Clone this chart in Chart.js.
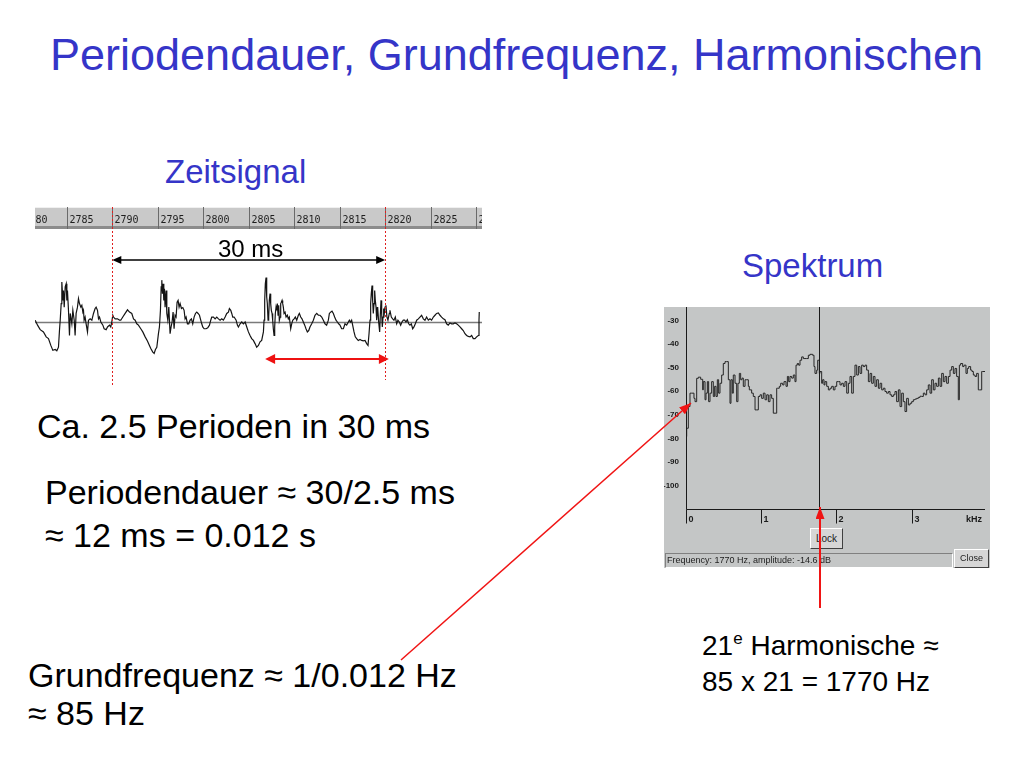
<!DOCTYPE html>
<html>
<head>
<meta charset="utf-8">
<script src="https://cdn.jsdelivr.net/npm/chart.js@4.4.1/dist/chart.umd.min.js"></script>
<style>
  body { margin: 0; width: 1024px; height: 768px; position: relative; overflow: hidden; background: #fff;
         font-family: "Liberation Sans", Arial, sans-serif; }
  .t { position: absolute; white-space: nowrap; line-height: 1; color: #000; }
  .blue { color: #3535c8; }
  canvas { position: absolute; }
  .panel { position: absolute; left: 664px; top: 307px; width: 326px; height: 261px; background: #c4c6c6; }
  .btn { position: absolute; box-sizing: border-box; background: #d6d6d6; border: 1px solid;
         border-color: #fff #404040 #404040 #fff; font-size: 10px; text-align: center; color: #222; }
  .status { position: absolute; box-sizing: border-box; left: 665px; top: 553px; width: 288px; height: 15px;
            border: 1px solid; border-color: #808080 #fff #fff #808080; font-size: 9px; line-height: 13px;
            padding-left: 1px; color: #222; white-space: nowrap; }
  svg { position: absolute; left: 0; top: 0; }
</style>
</head>
<body>

<div class="t blue" style="left:50px;top:32px;font-size:45px">Periodendauer, Grundfrequenz, Harmonischen</div>
<div class="t blue" style="left:165px;top:155px;font-size:33px">Zeitsignal</div>
<div class="t blue" style="left:742px;top:249px;font-size:33px">Spektrum</div>

<canvas id="signal" width="500" height="200" style="left:0;top:200px"></canvas>
<div class="t" style="left:218px;top:237px;font-size:24px">30 ms</div>

<div class="panel"></div>
<canvas id="spectrum" width="326" height="261" style="left:664px;top:307px"></canvas>
<div class="btn" style="left:810px;top:528px;width:33px;height:21px;line-height:19px">Lock</div>
<div class="status">Frequency: 1770 Hz, amplitude: -14.6 dB</div>
<div class="btn" style="left:954px;top:549px;width:35px;height:19px;line-height:17px;font-size:9px">Close</div>

<div class="t" style="left:37px;top:409px;font-size:34px">Ca. 2.5 Perioden in 30 ms</div>
<div class="t" style="left:45px;top:475px;font-size:34px">Periodendauer &#8776; 30/2.5 ms</div>
<div class="t" style="left:45px;top:518px;font-size:34px">&#8776; 12 ms = 0.012 s</div>
<div class="t" style="left:28px;top:658px;font-size:34px">Grundfrequenz &#8776; 1/0.012 Hz</div>
<div class="t" style="left:28px;top:696px;font-size:34px">&#8776; 85 Hz</div>
<div class="t" style="left:702px;top:632px;font-size:28px">21<span style="font-size:17px;position:relative;top:-11px">e</span> Harmonische &#8776;</div>
<div class="t" style="left:702px;top:668px;font-size:28px">85 x 21 = 1770 Hz</div>

<svg width="1024" height="768">
  <defs>
    <marker id="headA" markerWidth="12" markerHeight="9" refX="12" refY="4.5" orient="auto" markerUnits="userSpaceOnUse">
      <path d="M0,0 L12,4.5 L0,9 z" fill="#f01414"/>
    </marker>
  </defs>
  <line x1="401" y1="660" x2="691" y2="403" stroke="#f01414" stroke-width="1.5" marker-end="url(#headA)"/>
  <line x1="820" y1="608" x2="820" y2="507" stroke="#f01414" stroke-width="2" marker-end="url(#headA)"/>
</svg>

<script>
// Zeitsignal: time in ms, amplitude in relative units (0 = centre line)
const timeMs = [
  2781.52, 2781.78, 2782.07, 2782.43, 2782.73, 2782.98, 2783.24, 2783.46, 2783.72, 2783.90,
  2784.08, 2784.19, 2784.27, 2784.38, 2784.45, 2784.56, 2784.63, 2784.71, 2784.82, 2784.93,
  2785.00, 2785.07, 2785.18, 2785.29, 2785.37, 2785.55, 2785.66, 2785.81, 2785.91, 2786.02,
  2786.17, 2786.28, 2786.39, 2786.54, 2786.65, 2786.76, 2786.83, 2786.90, 2787.01, 2787.12,
  2787.27, 2787.38, 2787.56, 2787.75, 2787.93, 2788.11, 2788.22, 2788.37, 2788.48, 2788.59,
  2788.74, 2788.96, 2789.10, 2789.32, 2789.47, 2789.69, 2789.83, 2789.94, 2790.05, 2790.13,
  2790.31, 2790.57, 2790.79, 2790.93, 2791.15, 2791.41, 2791.67, 2791.89, 2792.14, 2792.33,
  2792.51, 2792.69, 2792.87, 2793.13, 2793.35, 2793.61, 2793.86, 2794.08, 2794.23, 2794.45,
  2794.60, 2794.74, 2794.89, 2795.07, 2795.18, 2795.29, 2795.37, 2795.44, 2795.51, 2795.59,
  2795.66, 2795.73, 2795.80, 2795.91, 2795.99, 2796.10, 2796.21, 2796.35, 2796.46, 2796.57,
  2796.68, 2796.79, 2796.90, 2797.01, 2797.12, 2797.23, 2797.34, 2797.45, 2797.60, 2797.75,
  2797.89, 2798.00, 2798.11, 2798.26, 2798.40, 2798.55, 2798.70, 2798.84, 2798.99, 2799.14,
  2799.28, 2799.43, 2799.58, 2799.72, 2799.83, 2799.94, 2800.09, 2800.31, 2800.49, 2800.68,
  2800.82, 2800.93, 2801.12, 2801.30, 2801.48, 2801.67, 2801.85, 2802.03, 2802.21, 2802.40,
  2802.58, 2802.76, 2802.87, 2803.02, 2803.13, 2803.24, 2803.39, 2803.61, 2803.75, 2803.86,
  2804.05, 2804.23, 2804.41, 2804.60, 2804.78, 2804.96, 2805.14, 2805.32, 2805.51, 2805.69,
  2805.87, 2806.06, 2806.24, 2806.42, 2806.61, 2806.68, 2806.75, 2806.82, 2806.90, 2806.97,
  2807.04, 2807.12, 2807.19, 2807.26, 2807.34, 2807.41, 2807.48, 2807.56, 2807.63, 2807.70,
  2807.78, 2807.85, 2807.92, 2808.00, 2808.07, 2808.14, 2808.22, 2808.29, 2808.36, 2808.44,
  2808.51, 2808.58, 2808.66, 2808.73, 2808.80, 2808.88, 2808.99, 2809.10, 2809.24, 2809.35,
  2809.46, 2809.61, 2809.72, 2809.83, 2809.98, 2810.12, 2810.27, 2810.45, 2810.56, 2810.71,
  2810.85, 2811.00, 2811.15, 2811.29, 2811.44, 2811.59, 2811.73, 2811.92, 2812.10, 2812.28,
  2812.47, 2812.65, 2812.83, 2813.02, 2813.20, 2813.38, 2813.56, 2813.75, 2813.86, 2814.00,
  2814.15, 2814.30, 2814.44, 2814.59, 2814.74, 2814.88, 2815.03, 2815.21, 2815.40, 2815.58,
  2815.76, 2815.95, 2816.06, 2816.20, 2816.31, 2816.42, 2816.57, 2816.71, 2816.86, 2817.04,
  2817.23, 2817.41, 2817.59, 2817.78, 2817.96, 2818.11, 2818.22, 2818.33, 2818.40, 2818.47,
  2818.55, 2818.62, 2818.69, 2818.77, 2818.84, 2818.91, 2818.99, 2819.06, 2819.17, 2819.28,
  2819.39, 2819.46, 2819.54, 2819.61, 2819.68, 2819.76, 2819.83, 2819.90, 2819.98, 2820.08,
  2820.19, 2820.30, 2820.45, 2820.52, 2820.67, 2820.82, 2820.96, 2821.11, 2821.26, 2821.40,
  2821.55, 2821.70, 2821.84, 2821.99, 2822.14, 2822.28, 2822.43, 2822.58, 2822.72, 2822.87,
  2823.02, 2823.16, 2823.31, 2823.46, 2823.64, 2823.82, 2824.00, 2824.19, 2824.37, 2824.55,
  2824.74, 2824.92, 2825.10, 2825.29, 2825.47, 2825.65, 2825.84, 2826.02, 2826.20, 2826.39,
  2826.57, 2826.75, 2826.93, 2827.12, 2827.30, 2827.48, 2827.67, 2827.85, 2828.03, 2828.22,
  2828.40, 2828.58, 2828.77, 2828.95, 2829.13, 2829.32, 2829.50, 2829.68, 2829.87, 2830.05,
  2830.23, 2830.31, 2830.34
];
const amplitude = [
  0.04, -0.07, -0.17, -0.22, -0.33, -0.37, -0.52, -0.63, -0.61, -0.64,
  -0.56, -0.19, 0.04, 0.41, 0.89, 0.48, 0.70, 0.33, 0.78, 0.85,
  0.48, 0.70, 0.26, -0.30, 0.19, -0.04, 0.26, 0.04, -0.30, 0.19,
  0.33, 0.52, 0.41, 0.33, 0.37, 0.22, 0.26, 0.04, 0.11, -0.04,
  -0.22, 0.04, 0.07, 0.04, 0.19, 0.30, 0.33, 0.26, 0.07, 0.11,
  0.00, -0.07, -0.15, -0.17, -0.11, -0.07, -0.11, 0.00, 0.15, 0.11,
  0.07, 0.07, 0.04, 0.04, 0.11, 0.19, 0.27, 0.22, 0.19, 0.07,
  0.04, -0.04, -0.07, -0.15, -0.22, -0.33, -0.42, -0.52, -0.59, -0.67,
  -0.70, -0.61, -0.56, -0.26, -0.11, 0.26, 0.78, 0.93, 0.63, 0.85,
  0.48, 0.74, 0.33, 0.70, 0.19, 0.04, 0.33, -0.26, -0.11, 0.00,
  0.22, -0.15, 0.15, 0.11, 0.44, 0.48, 0.33, 0.41, 0.30, 0.32,
  0.26, 0.07, 0.11, -0.04, -0.04, 0.04, 0.07, -0.04, 0.11, 0.19,
  0.22, 0.19, 0.15, 0.04, -0.04, -0.11, -0.15, -0.15, -0.13, -0.07,
  0.04, 0.11, 0.11, 0.07, 0.11, 0.07, 0.04, 0.07, 0.04, 0.11,
  0.19, 0.22, 0.30, 0.26, 0.19, 0.11, 0.11, 0.04, -0.07, -0.11,
  -0.04, 0.00, -0.04, 0.00, -0.11, -0.22, -0.30, -0.37, -0.41, -0.48,
  -0.56, -0.52, -0.44, -0.41, -0.22, 0.04, 0.48, 0.85, 0.99, 0.56,
  0.41, 0.04, 0.11, 0.48, 0.63, 0.41, 0.26, 0.19, 0.04, -0.15,
  -0.30, -0.11, 0.19, 0.33, 0.26, 0.41, 0.15, 0.37, 0.04, 0.11,
  0.41, 0.44, 0.48, 0.41, 0.33, 0.19, 0.22, 0.11, 0.15, 0.07,
  0.11, -0.15, -0.04, 0.04, 0.07, 0.11, 0.04, 0.15, 0.19, 0.11,
  0.07, 0.00, -0.07, -0.15, -0.22, -0.19, -0.11, -0.04, 0.04, 0.15,
  0.19, 0.15, 0.15, 0.11, 0.04, -0.04, -0.07, 0.04, 0.19, 0.22,
  0.24, 0.19, 0.11, 0.04, 0.00, -0.04, -0.07, -0.15, -0.15, -0.04,
  -0.07, 0.00, 0.04, 0.00, 0.04, -0.07, -0.22, -0.33, -0.37, -0.41,
  -0.39, -0.41, -0.42, -0.41, -0.48, -0.52, -0.26, 0.04, 0.41, 0.63,
  0.81, 0.48, 0.19, 0.41, 0.70, 0.48, 0.33, 0.04, 0.33, 0.00,
  -0.22, 0.15, 0.48, 0.19, -0.11, 0.11, 0.30, 0.19, 0.33, 0.37,
  0.11, 0.04, 0.19, 0.26, 0.11, 0.07, 0.04, 0.11, -0.04, 0.04,
  0.00, -0.07, 0.00, 0.04, 0.04, 0.00, 0.05, -0.04, -0.07, -0.04,
  -0.15, -0.11, -0.04, 0.04, 0.07, 0.11, 0.15, 0.07, 0.04, 0.11,
  0.04, 0.07, 0.04, 0.11, 0.15, 0.19, 0.20, 0.15, 0.11, 0.07,
  0.05, -0.04, -0.07, -0.02, -0.04, -0.04, -0.02, -0.04, -0.07, -0.11,
  -0.15, -0.19, -0.26, -0.30, -0.32, -0.33, -0.30, -0.37, -0.37, -0.33,
  -0.30, 0.04, 0.22
];
const markerMs = [2790, 2820];          // red dotted period marks
const spanArrow = [2790, 2820, 1.37];    // "30 ms" arrow: from, to, level
const periodArrow = [2806.8, 2820.4, -0.82];

// Spektrum: frequency in kHz, level in dB
const freqKHz = [
  0.009, 0.031, 0.053, 0.075, 0.106, 0.120, 0.142, 0.164, 0.195, 0.222,
  0.230, 0.253, 0.266, 0.284, 0.301, 0.319, 0.341, 0.363, 0.381, 0.399,
  0.417, 0.434, 0.452, 0.474, 0.496, 0.519, 0.541, 0.563, 0.585, 0.598,
  0.616, 0.629, 0.652, 0.674, 0.691, 0.709, 0.727, 0.745, 0.762, 0.785,
  0.807, 0.829, 0.842, 0.873, 0.895, 0.918, 0.940, 0.962, 0.984, 1.006,
  1.028, 1.051, 1.073, 1.095, 1.117, 1.139, 1.161, 1.184, 1.206, 1.215,
  1.241, 1.259, 1.285, 1.303, 1.330, 1.348, 1.365, 1.383, 1.405, 1.427,
  1.449, 1.463, 1.480, 1.498, 1.516, 1.538, 1.560, 1.582, 1.605, 1.627,
  1.649, 1.684, 1.702, 1.715, 1.738, 1.751, 1.773, 1.782, 1.804, 1.817,
  1.835, 1.848, 1.871, 1.893, 1.915, 1.937, 1.959, 1.981, 2.004, 2.026,
  2.048, 2.070, 2.092, 2.114, 2.137, 2.159, 2.181, 2.203, 2.225, 2.247,
  2.270, 2.292, 2.314, 2.336, 2.358, 2.380, 2.402, 2.425, 2.447, 2.469,
  2.491, 2.513, 2.535, 2.558, 2.580, 2.602, 2.624, 2.646, 2.668, 2.691,
  2.713, 2.735, 2.757, 2.779, 2.801, 2.824, 2.846, 2.868, 2.890, 2.912,
  2.934, 2.957, 2.979, 3.001, 3.023, 3.045, 3.067, 3.090, 3.112, 3.134,
  3.156, 3.178, 3.200, 3.222, 3.245, 3.267, 3.289, 3.311, 3.333, 3.356,
  3.378, 3.400, 3.422, 3.444, 3.466, 3.489, 3.511, 3.533, 3.555, 3.577,
  3.599, 3.621, 3.635, 3.652, 3.679, 3.697, 3.723, 3.741, 3.759, 3.785,
  3.803, 3.821, 3.843, 3.865, 3.887, 3.901, 3.932, 3.945, 3.976
];
const levelDb = [
  -79.2, -75.7, -66.5, -60.8, -60.8, -63.0, -64.4, -54.5, -54.0, -54.9,
  -59.4, -55.9, -63.6, -60.8, -55.9, -64.4, -60.8, -55.9, -62.2, -57.9,
  -62.2, -55.1, -60.8, -56.6, -53.1, -48.2, -47.4, -47.4, -55.1, -65.1,
  -55.1, -60.8, -53.1, -56.6, -64.4, -56.6, -52.4, -55.1, -54.4, -57.9,
  -55.1, -55.1, -57.9, -59.4, -60.8, -62.2, -67.9, -67.9, -62.2, -61.5,
  -63.0, -60.8, -63.6, -61.5, -64.4, -61.5, -63.0, -69.3, -69.3, -58.7,
  -58.7, -57.9, -56.6, -57.3, -55.9, -57.9, -53.7, -55.9, -53.7, -54.4,
  -53.1, -55.9, -48.9, -48.2, -48.9, -46.8, -45.4, -46.1, -46.1, -46.1,
  -44.7, -44.3, -44.7, -49.5, -52.4, -51.0, -46.8, -52.4, -51.6, -56.6,
  -55.1, -57.3, -55.9, -57.9, -59.4, -58.7, -57.9, -59.4, -57.9, -55.9,
  -55.9, -57.3, -56.6, -57.9, -55.9, -60.8, -56.6, -53.7, -60.8, -53.7,
  -48.9, -53.1, -49.5, -52.4, -48.9, -49.5, -48.9, -51.0, -55.9, -52.4,
  -56.6, -53.7, -57.9, -55.1, -58.7, -56.6, -59.4, -58.7, -60.1, -60.8,
  -60.1, -61.5, -62.2, -61.5, -60.1, -64.4, -59.4, -66.5, -60.8, -64.4,
  -68.6, -63.0, -65.8, -65.1, -64.4, -63.6, -63.3, -63.0, -62.6, -62.1,
  -62.2, -60.8, -61.5, -59.4, -57.3, -60.8, -55.1, -59.4, -56.6, -57.9,
  -54.4, -57.9, -52.4, -55.9, -53.7, -56.6, -53.7, -51.0, -49.5, -52.4,
  -50.3, -53.7, -63.6, -48.9, -48.2, -49.5, -48.9, -52.4, -50.3, -49.5,
  -51.0, -51.6, -53.1, -53.7, -52.4, -59.4, -59.4, -51.6, -51.6
];
const dbTicks = [-30, -40, -50, -60, -70, -80, -90, -100];
const khzTicks = [0, 1, 2, 3];
const cursorKHz = 1.77;

function arrowHead(ctx, x1, y1, x2, y2, len, half) {
  const a = Math.atan2(y2 - y1, x2 - x1);
  ctx.beginPath();
  ctx.moveTo(x2, y2);
  ctx.lineTo(x2 - len * Math.cos(a) + half * Math.sin(a), y2 - len * Math.sin(a) - half * Math.cos(a));
  ctx.lineTo(x2 - len * Math.cos(a) - half * Math.sin(a), y2 - len * Math.sin(a) + half * Math.cos(a));
  ctx.closePath();
  ctx.fill();
}

function doubleArrow(ctx, x1, x2, y, color, width, len, half) {
  ctx.strokeStyle = color;
  ctx.fillStyle = color;
  ctx.lineWidth = width;
  ctx.beginPath();
  ctx.moveTo(x1 + len - 1, y);
  ctx.lineTo(x2 - len + 1, y);
  ctx.stroke();
  arrowHead(ctx, x2, y, x1, y, len, half);
  arrowHead(ctx, x1, y, x2, y, len, half);
}

// ruler on top, centre line, period marks and arrows
const signalDecor = {
  id: 'signalDecor',
  beforeDatasetsDraw(chart) {
    const { ctx, chartArea: a, scales: { y } } = chart;
    const y0 = Math.round(y.getPixelForValue(0)) + 0.5;
    ctx.save();
    ctx.strokeStyle = '#7a7a7a';
    ctx.lineWidth = 1.5;
    ctx.beginPath();
    ctx.moveTo(a.left, y0);
    ctx.lineTo(a.right, y0);
    ctx.stroke();
    ctx.restore();
  },
  afterDraw(chart) {
    const { ctx, chartArea: a, scales: { x, y } } = chart;
    const top = a.top - 25, h = 22;
    ctx.save();
    ctx.beginPath();
    ctx.rect(a.left, top, a.right - a.left, h);
    ctx.clip();
    ctx.fillStyle = '#c9c9c9';
    ctx.fillRect(a.left, top, a.right - a.left, h);
    ctx.fillStyle = '#f0f0f0';
    ctx.fillRect(a.left, top, a.right - a.left, 1);
    ctx.fillStyle = '#8c8c8c';
    ctx.fillRect(a.left, top + h - 3, a.right - a.left, 3);
    ctx.font = '10px "DejaVu Sans Mono", monospace';
    ctx.textBaseline = 'alphabetic';
    for (let v = Math.floor(x.min / 5) * 5; v <= x.max; v += 5) {
      const px = Math.round(x.getPixelForValue(v)) + 0.5;
      ctx.strokeStyle = '#6a6a6a';
      ctx.lineWidth = 1;
      ctx.beginPath();
      ctx.moveTo(px, top);
      ctx.lineTo(px, top + h);
      ctx.stroke();
      ctx.fillStyle = '#1e1e1e';
      ctx.fillText(String(v), px + 2, top + 16);
    }
    ctx.restore();

    ctx.save();
    ctx.strokeStyle = '#e01e1e';
    ctx.lineWidth = 1;
    ctx.setLineDash([2, 2]);
    markerMs.forEach((m, i) => {
      const px = Math.round(x.getPixelForValue(m)) + 0.5;
      ctx.beginPath();
      ctx.moveTo(px, top);
      ctx.lineTo(px, i === 0 ? a.bottom - 7 : a.bottom - 14);
      ctx.stroke();
    });
    ctx.setLineDash([]);
    doubleArrow(ctx, x.getPixelForValue(spanArrow[0]), x.getPixelForValue(spanArrow[1]),
      Math.round(y.getPixelForValue(spanArrow[2])), '#000', 1.6, 9, 4);
    doubleArrow(ctx, x.getPixelForValue(periodArrow[0]), x.getPixelForValue(periodArrow[1]),
      Math.round(y.getPixelForValue(periodArrow[2])), '#ee1111', 2, 10, 5);
    ctx.restore();
  }
};

new Chart(document.getElementById('signal'), {
  type: 'line',
  data: {
    datasets: [{
      data: timeMs.map((t, i) => ({ x: t, y: amplitude[i] })),
      borderColor: '#141414',
      borderWidth: 1.2,
      pointRadius: 0,
      tension: 0
    }]
  },
  options: {
    responsive: false,
    animation: false,
    events: [],
    layout: { padding: { left: 35, right: 18, top: 32, bottom: 6 } },
    scales: {
      x: { type: 'linear', min: 2781.5, max: 2830.64, display: false },
      y: { min: -1.6, max: 2, display: false }
    },
    plugins: { legend: { display: false }, tooltip: { enabled: false } }
  },
  plugins: [signalDecor]
});

// axes of the spectrum window: labels left of the y axis, tick labels right of the x ticks
const spectrumDecor = {
  id: 'spectrumDecor',
  afterDraw(chart) {
    const { ctx, chartArea: a, scales: { x, y } } = chart;
    const left = Math.round(a.left) + 0.5, bottom = Math.round(a.bottom) + 0.5;
    ctx.save();
    ctx.strokeStyle = '#1a1a1a';
    ctx.lineWidth = 1;
    ctx.beginPath();
    ctx.moveTo(left, a.top);
    ctx.lineTo(left, bottom);
    ctx.lineTo(a.right, bottom);
    ctx.stroke();

    const cx = Math.round(x.getPixelForValue(cursorKHz)) + 0.5;
    ctx.beginPath();
    ctx.moveTo(cx, a.top);
    ctx.lineTo(cx, bottom);
    ctx.stroke();

    ctx.fillStyle = '#1a1a1a';
    ctx.font = 'bold 8px "Liberation Sans", Arial, sans-serif';
    ctx.textAlign = 'right';
    ctx.textBaseline = 'middle';
    dbTicks.forEach(v => ctx.fillText(String(v), a.left - 7, y.getPixelForValue(v)));

    ctx.font = 'bold 9px "Liberation Sans", Arial, sans-serif';
    ctx.textAlign = 'left';
    ctx.textBaseline = 'alphabetic';
    khzTicks.forEach(v => {
      const px = Math.round(x.getPixelForValue(v)) + 0.5;
      ctx.beginPath();
      ctx.moveTo(px, bottom);
      ctx.lineTo(px, bottom + 14);
      ctx.stroke();
      ctx.fillText(String(v), px + 2, bottom + 12);
    });
    ctx.textAlign = 'right';
    ctx.fillText('kHz', a.right - 3, bottom + 12);
    ctx.restore();
  }
};

new Chart(document.getElementById('spectrum'), {
  type: 'line',
  data: {
    datasets: [{
      data: freqKHz.map((f, i) => ({ x: f, y: levelDb[i] })),
      borderColor: '#262626',
      borderWidth: 1,
      pointRadius: 0,
      stepped: 'after'
    }]
  },
  options: {
    responsive: false,
    animation: false,
    events: [],
    layout: { padding: { left: 22, right: 5, top: 0, bottom: 59 } },
    scales: {
      x: { type: 'linear', min: 0, max: 3.976, display: false },
      y: { min: -110, max: -24.2, display: false }
    },
    plugins: { legend: { display: false }, tooltip: { enabled: false } }
  },
  plugins: [spectrumDecor]
});
</script>
</body>
</html>
